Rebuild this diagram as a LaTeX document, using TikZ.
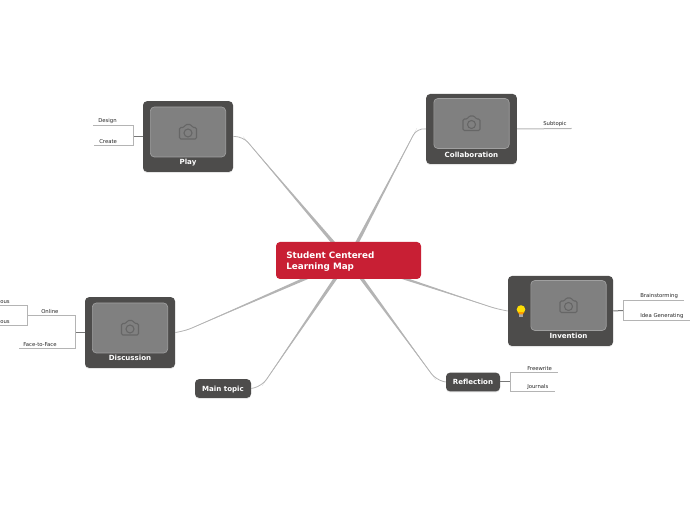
\documentclass[tikz,border=0pt]{standalone}
\usepackage{fontspec}
\setmainfont{DejaVu Sans}
\usetikzlibrary{calc,shadows}
\definecolor{cardgray}{HTML}{4D4C4B}
\definecolor{photogray}{HTML}{808080}
\definecolor{camgray}{HTML}{666666}
\definecolor{hubred}{HTML}{C81F34}
\definecolor{linegray}{HTML}{B4B4B4}
\definecolor{stemgray}{HTML}{777777}
\newcommand{\spoke}[2]{
	\fill[linegray] ($(#1)!1.5pt!90:(#2)$) -- ($(#1)!1.5pt!-90:(#2)$) -- (#2) -- cycle;
}
\tikzset{
	camicon/.pic={
		\draw[camgray,line width=.8pt,rounded corners=1pt] (-8.5,-4.5) -- (-4,-4.5) -- (-2.5,-7.5) -- (3,-7.5) -- (4.5,-4.5) -- (8.5,-4.5) -- (8.5,7) -- (-8.5,7) -- cycle;
		\draw[camgray,line width=.8pt] (0,1) circle (4);
	}
}
\begin{document}
\begin{tikzpicture}[x=.75pt, y=-.75pt, font=\footnotesize,
	card/.style={fill=cardgray, rounded corners=3pt, inner sep=0pt, drop shadow={shadow xshift=0pt, shadow yshift=-.8pt, opacity=.2}},
	photo/.style={fill=photogray, draw=white!25!photogray, line width=.5pt, rounded corners=3pt, minimum width=56.5pt, minimum height=37.5pt, inner sep=0pt},
	title/.style={text=white, anchor=base, font=\fontsize{5.3}{6}\selectfont\bfseries, inner sep=0pt},
	sub/.style={anchor=south west, inner xsep=0pt, inner ysep=1.5pt, align=left, font=\fontsize{4}{5}\selectfont, text=black!85},
	branch/.style={linegray, line width=.75pt},
	stem/.style={stemgray, line width=.75pt},
	bendline/.style={linegray, line width=.6pt, rounded corners=6pt}]
	\useasboundingbox (0,0) rectangle (697,520);
	\coordinate (hub) at (348,260);
	\coordinate (playbend) at (243,136.5);
	\coordinate (collabbend) at (417,128);
	\coordinate (inventbend) at (497,309);
	\coordinate (reflectbend) at (436,380);
	\coordinate (mainbend) at (262,386);
	\coordinate (discussbend) at (185,331);
	\spoke{hub}{playbend}
	\spoke{hub}{collabbend}
	\spoke{hub}{inventbend}
	\spoke{hub}{reflectbend}
	\spoke{hub}{mainbend}
	\spoke{hub}{discussbend}

	\node[card, minimum width=67.5pt, minimum height=53pt] (play) at (188,136.5) {};
	\node[photo] (playphoto) at (188,132) {};
	\pic at (playphoto) {camicon};
	\node[title] (playtitle) at (188,165) {Play};

	\node[card, minimum width=68pt, minimum height=52.5pt] (collab) at (471.5,129) {};
	\node[photo] (collabphoto) at (471.5,123.5) {};
	\pic at (collabphoto) {camicon};
	\node[title] (collabtitle) at (471.5,158) {Collaboration};

	\node[card, minimum width=78.75pt, minimum height=52.5pt] (invent) at (560.5,311) {};
	\node[photo] (inventphoto) at (568.5,305.5) {};
	\pic at (inventphoto) {camicon};
	\node[title] (inventtitle) at (568.5,339) {Invention};
	\fill[gray!70] (519.2,313) rectangle (522.8,317);
	\fill[yellow!80!orange] (521,309.5) circle (4.3);
	\fill[orange!80!yellow] (518,312.2) -- (524,312.2) -- (522.8,314.5) -- (519.2,314.5) -- cycle;

	\node[card, minimum width=67.5pt, minimum height=53pt] (discuss) at (130,332.5) {};
	\node[photo] (discussphoto) at (130,328) {};
	\pic at (discussphoto) {camicon};
	\node[title] (discusstitle) at (130,361) {Discussion};

	\node[card, minimum width=40.5pt, minimum height=14pt, text height=4pt, text depth=0pt, text=white, font=\fontsize{5.3}{6}\selectfont\bfseries] (reflect) at (473,382) {Reflection};
	\node[card, minimum width=42pt, minimum height=14pt, text height=4pt, text depth=0pt, text=white, font=\fontsize{5.3}{6}\selectfont\bfseries] (maintopic) at (223,388.5) {Main topic};

	\draw[bendline] (play.east) -- (playbend) -- (hub);
	\draw[bendline] (collab.west) -- (collabbend) -- (hub);
	\draw[bendline] (invent.west) -- (inventbend) -- (hub);
	\draw[bendline] (reflect.west) -- (reflectbend) -- (hub);
	\draw[bendline] (maintopic.east) -- (mainbend) -- (hub);
	\draw[bendline] (discuss.east) -- (discussbend) -- (hub);

	\node[fill=hubred, rounded corners=3pt, minimum width=108.75pt, minimum height=27.75pt, inner sep=0pt] (center) at (348.5,260.5) {};
	\node[anchor=west, text=white, font=\fontsize{6.6}{8.2}\selectfont\bfseries, align=left, inner sep=0pt] (centertext) at (286,261.5) {Student Centered\\Learning Map};

	% subtopics
	\coordinate (playfork) at (133,136.5);
	\node[sub, inner xsep=3.75pt] (design) at (93,126) {Design};
	\node[sub, inner xsep=3.75pt] (create) at (94,146) {Create};
	\draw[stem] (play.west) -- (playfork);
	\draw[branch] (playfork) |- (design.south west);
	\draw[branch] (playfork) |- (create.south west);

	\node[sub, text width=21pt] (subtopic) at (543,128.5) {Subtopic};
	\draw[branch] (collab.east) -- (subtopic.south east);

	\coordinate (inventfork) at (623,310.5);
	\node[sub, text width=32.25pt] (brainstorm) at (640,300.5) {Brainstorming};
	\node[sub, text width=36.75pt] (ideagen) at (640,320.5) {Idea Generating};
	\draw[stem] (invent.east) -- (inventfork);
	\draw[branch] (inventfork) |- (brainstorm.south east);
	\draw[branch] (inventfork) |- (ideagen.south east);

	\coordinate (reflectfork) at (510.5,382);
	\node[sub, text width=22.5pt] (freewrite) at (527,372.5) {Freewrite};
	\node[sub, text width=20.25pt] (journals) at (527,391.5) {Journals};
	\draw[stem] (reflect.east) -- (reflectfork);
	\draw[branch] (reflectfork) |- (freewrite.south east);
	\draw[branch] (reflectfork) |- (journals.south east);

	\coordinate (discussfork) at (75,332.5);
	\coordinate (onlinefork) at (27,316);
	\node[sub, inner xsep=10.5pt] (online) at (onlinefork) {Online};
	\node[sub, inner xsep=3pt] (facetoface) at (19,349) {Face-to-Face};
	\draw[stem] (discuss.west) -- (discussfork);
	\draw[branch] (discussfork) |- (online.south west);
	\draw[branch] (discussfork) |- (facetoface.south west);

	\node[sub] (onlineone) at (0,306) {ous};
	\node[sub] (onlinetwo) at (0,326) {ous};
	\draw[branch] (onlinefork) |- (onlineone.south west);
	\draw[branch] (onlinefork) |- (onlinetwo.south west);
\end{tikzpicture}
\end{document}
